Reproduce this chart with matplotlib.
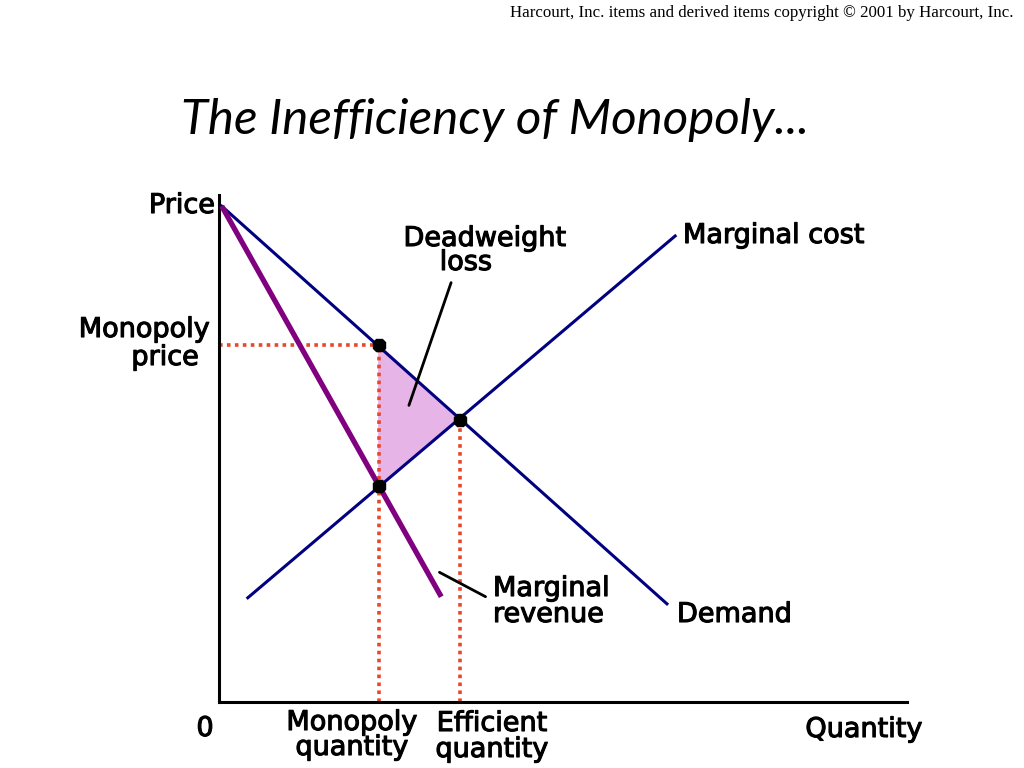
import matplotlib
matplotlib.use("Agg")
import matplotlib.pyplot as plt
import matplotlib.patheffects as pe

# curve endpoints (quantity, price) in chart units, axes run 0-100
demand_q = [0.4, 65.3]
demand_p = [98.0, 19.4]
mc_q = [4.2, 66.5]
mc_p = [20.6, 92.1]
mr_q = [0.4, 32.4]
mr_p = [98.0, 20.8]

monopoly_q = 23.3
monopoly_p = 70.6
mc_at_monopoly = 42.6
efficient_q = 35.1
efficient_p = 55.8

NAVY = "#000080"
PURPLE = "#800080"
DOTTED = "#E8472A"
SHADE = "#E6B4E6"

W, H = 1024, 768
fig = plt.figure(figsize=(W / 100, H / 100), dpi=100)


def fp(x, y):
    # pixel position (from top-left) -> figure fraction
    return x / W, 1 - y / H


ax = fig.add_axes([219 / W, 1 - 702 / H, (907 - 219) / W, (702 - 195) / H])
ax.set_xlim(0, 100.3)
ax.set_ylim(0, 100.2)
ax.spines["top"].set_visible(False)
ax.spines["right"].set_visible(False)
ax.spines["left"].set_linewidth(2.2)
ax.spines["bottom"].set_linewidth(2.2)
ax.set_xticks([])
ax.set_yticks([])

# deadweight loss triangle
ax.fill([monopoly_q, efficient_q, monopoly_q],
        [monopoly_p, efficient_p, mc_at_monopoly],
        color=SHADE, zorder=1)

# dotted guides
dot_style = dict(color=DOTTED, linestyle=(0, (1, 1.2)), linewidth=2.6, zorder=2)
ax.plot([0, monopoly_q], [monopoly_p, monopoly_p], **dot_style)
ax.plot([monopoly_q, monopoly_q], [0, monopoly_p], **dot_style)
ax.plot([efficient_q, efficient_q], [0, efficient_p], **dot_style)

ax.plot(demand_q, demand_p, color=NAVY, linewidth=2.2, zorder=3)
ax.plot(mc_q, mc_p, color=NAVY, linewidth=2.2, zorder=3)
ax.plot(mr_q, mr_p, color=PURPLE, linewidth=3.8, solid_capstyle="butt", zorder=3)

ax.plot([monopoly_q, monopoly_q, efficient_q],
        [monopoly_p, mc_at_monopoly, efficient_p],
        linestyle="none", marker="8", markersize=9.5, color="black", zorder=4)

# leader lines
ax.annotate("", xy=fp(408, 408), xytext=fp(452, 280), xycoords="figure fraction",
            arrowprops=dict(arrowstyle="-", color="black", linewidth=2))
ax.annotate("", xy=fp(437, 571), xytext=fp(488, 598), xycoords="figure fraction",
            arrowprops=dict(arrowstyle="-", color="black", linewidth=2))

lab = dict(fontfamily="DejaVu Sans", fontsize=19.5, color="black",
           path_effects=[pe.withStroke(linewidth=0.8, foreground="black")])


def label(x, y, s, ha="center", **kw):
    # y is the baseline, in pixels from the top
    fig.text(*fp(x, y), s, ha=ha, va="baseline", **lab, **kw)


label(215, 213, "Price", ha="right")
label(210, 337, "Monopoly", ha="right")
label(199, 365, "price", ha="right")
label(485, 246, "Deadweight")
label(466, 270, "loss")
label(683, 243, "Marginal cost", ha="left")
fig.text(*fp(493, 622), "Marginal\nrevenue", ha="left", va="baseline",
         linespacing=1.0, **lab)
label(677, 622, "Demand", ha="left")
label(205, 736, "0")
label(352, 730, "Monopoly")
label(352, 755, "quantity")
label(492, 731, "Efficient")
label(492, 757, "quantity")
label(864, 737, "Quantity")

fig.text(*fp(495, 134), "The Inefficiency of Monopoly...", ha="center", va="baseline",
         fontfamily="Lato", fontstyle="italic", fontsize=35.5)
fig.text(*fp(1014, 17), "Harcourt, Inc. items and derived items copyright \u00a9 2001 by Harcourt, Inc.",
         ha="right", va="baseline", fontfamily="Liberation Serif", fontsize=12.2)

fig.savefig("out.png", dpi=100)
